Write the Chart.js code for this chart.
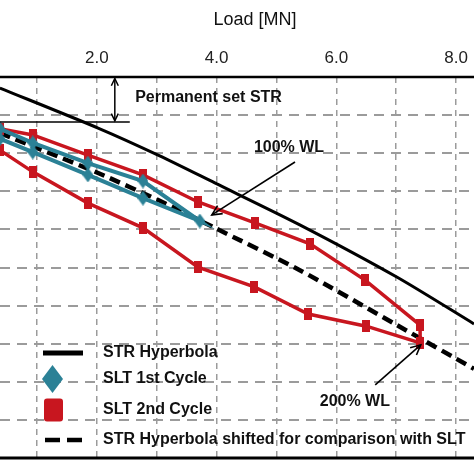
<!DOCTYPE html>
<html>
<head>
<meta charset="utf-8">
<script src="https://cdn.jsdelivr.net/npm/chart.js@4.4.1/dist/chart.umd.min.js"></script>
<style>
    body { margin: 0; background: #fff; }
    #wrap { width: 474px; height: 474px; }
</style>
</head>
<body>
<div id="wrap"><canvas id="chart1"></canvas></div>
<script>
// tick labels on the load axis
const loadTicks = [2, 4, 6, 8];

// STR hyperbola
const strLoad = [0.38, 2.02, 3.05, 3.97, 5.39, 7.01, 8.30];
const strSettle = [0.29, 1.34, 2.07, 2.78, 3.88, 5.25, 6.48];

// STR hyperbola shifted by the permanent set
const shiftLoad = [0.38, 2.02, 3.05, 3.97, 5.39, 7.01, 8.30];
const shiftSettle = [1.47, 2.52, 3.25, 3.96, 5.07, 6.51, 7.66];

// SLT 1st cycle (loading, then unloading)
const slt1Load = [0.38, 0.93, 1.85, 2.77, 3.72, 2.77, 1.85, 0.93, 0.38];
const slt1Settle = [1.36, 1.73, 2.26, 2.73, 3.78, 3.18, 2.57, 1.97, 1.62];

// SLT 2nd cycle (loading, then unloading)
const slt2Load = [0.38, 0.93, 1.85, 2.77, 3.69, 4.64, 5.56, 6.48, 7.40, 7.40, 6.50, 5.53, 4.63, 3.69, 2.77, 1.85, 0.93, 0.38];
const slt2Settle = [1.36, 1.52, 2.05, 2.57, 3.28, 3.83, 4.38, 5.33, 6.51, 6.98, 6.54, 6.22, 5.51, 4.99, 3.96, 3.31, 2.49, 1.92];

const legendLabels = ['STR Hyperbola', 'SLT 1st Cycle', 'SLT 2nd Cycle', 'STR Hyperbola shifted for comparison with SLT'];

const FONT = '"Liberation Sans", Arial, sans-serif';
const TEAL = '#2b8196';
const RED = '#c8161f';

function pts(xs, ys) {
    return xs.map((v, i) => ({ x: v, y: ys[i] }));
}

// small marker images
function makeMarker(w, h, color, diamond) {
    const c = document.createElement('canvas');
    c.width = w; c.height = h;
    const g = c.getContext('2d');
    g.fillStyle = color;
    g.beginPath();
    if (diamond) {
        g.moveTo(w / 2, 0); g.lineTo(w, h / 2); g.lineTo(w / 2, h); g.lineTo(0, h / 2);
    } else {
        g.rect(0, 0, w, h);
    }
    g.closePath();
    g.fill();
    return c;
}
const diamondMark = makeMarker(11, 15, TEAL, true);
const rectMark = makeMarker(8, 12, RED, false);

function line(ctx, x1, y1, x2, y2) {
    ctx.beginPath(); ctx.moveTo(x1, y1); ctx.lineTo(x2, y2); ctx.stroke();
}
function head(ctx, x1, y1, x2, y2, size) {
    const a = Math.atan2(y2 - y1, x2 - x1);
    ctx.beginPath();
    ctx.moveTo(x2 - size * Math.cos(a - 0.45), y2 - size * Math.sin(a - 0.45));
    ctx.lineTo(x2, y2);
    ctx.lineTo(x2 - size * Math.cos(a + 0.45), y2 - size * Math.sin(a + 0.45));
    ctx.stroke();
}

const notes = {
    id: 'notes',
    afterDraw(chart) {
        const { ctx, chartArea: a, scales: { x, y } } = chart;
        const X = v => x.getPixelForValue(v);
        const Y = v => y.getPixelForValue(v);
        ctx.save();
        ctx.strokeStyle = '#000';
        ctx.fillStyle = '#111';

        // frame lines
        ctx.lineWidth = 2.5;
        line(ctx, a.left, a.top, a.right, a.top);
        ctx.lineWidth = 3;
        line(ctx, a.left, a.bottom, a.right, a.bottom);

        // axis title
        ctx.font = '18px ' + FONT;
        ctx.textAlign = 'center';
        ctx.textBaseline = 'middle';
        ctx.fillText('Load [MN]', X(4.64), 20);

        // permanent set
        ctx.lineWidth = 1.5;
        line(ctx, a.left, Y(1.18), X(2.55), Y(1.18));
        line(ctx, X(2.30), Y(0.04), X(2.30), Y(1.15));
        head(ctx, X(2.30), Y(0.6), X(2.30), Y(0.04), 8);
        head(ctx, X(2.30), Y(0.6), X(2.30), Y(1.15), 8);
        ctx.font = 'bold 16px ' + FONT;
        ctx.textAlign = 'left';
        ctx.fillText('Permanent set STR', X(2.64), Y(0.53));

        // 100% / 200% working load
        ctx.textAlign = 'center';
        ctx.fillText('100% WL', X(5.21), Y(1.86));
        ctx.fillText('200% WL', X(6.31), Y(8.53));
        ctx.lineWidth = 1.6;
        line(ctx, X(5.31), Y(2.23), X(3.92), Y(3.62));
        head(ctx, X(5.31), Y(2.23), X(3.92), Y(3.62), 11);
        line(ctx, X(6.65), Y(8.08), X(7.41), Y(7.03));
        head(ctx, X(6.65), Y(8.08), X(7.41), Y(7.03), 11);

        // legend
        const ds = chart.data.datasets;
        const lx = 103;
        const rows = [353, 379, 410, 440];
        ctx.textAlign = 'left';
        ctx.font = 'bold 16px ' + FONT;
        legendLabels.forEach((t, i) => ctx.fillText(t, lx, rows[i]));

        ctx.strokeStyle = ds[0].borderColor;
        ctx.lineWidth = 5;
        line(ctx, 43, rows[0], 83, rows[0]);

        ctx.fillStyle = ds[1].borderColor;
        ctx.beginPath();
        ctx.moveTo(52.5, rows[1] - 14); ctx.lineTo(63, rows[1]);
        ctx.lineTo(52.5, rows[1] + 14); ctx.lineTo(42, rows[1]);
        ctx.closePath(); ctx.fill();

        ctx.fillStyle = ds[2].borderColor;
        ctx.beginPath();
        ctx.roundRect(44, rows[2] - 11.5, 19, 23, 3);
        ctx.fill();

        ctx.strokeStyle = ds[3].borderColor;
        ctx.lineWidth = 4.5;
        line(ctx, 45, rows[3], 60, rows[3]);
        line(ctx, 67, rows[3], 82, rows[3]);
        ctx.restore();
    }
};

const chart1 = new Chart(document.querySelector('#chart1'), {
    type: 'scatter',
    data: {
        datasets: [
            {
                label: legendLabels[0],
                data: pts(strLoad, strSettle),
                showLine: true,
                borderColor: '#000',
                borderWidth: 3,
                pointRadius: 0,
                tension: 0.25,
            },
            {
                label: legendLabels[1],
                data: pts(slt1Load, slt1Settle),
                showLine: true,
                borderColor: TEAL,
                borderWidth: 4,
                pointStyle: diamondMark,
                pointRadius: 6,
            },
            {
                label: legendLabels[2],
                data: pts(slt2Load, slt2Settle),
                showLine: true,
                borderColor: RED,
                borderWidth: 3.5,
                pointStyle: rectMark,
                pointRadius: 6,
            },
            {
                label: legendLabels[3],
                data: pts(shiftLoad, shiftSettle),
                showLine: true,
                borderColor: '#000',
                borderWidth: 4.5,
                borderDash: [11, 6],
                pointRadius: 0,
                tension: 0.25,
            }
        ]
    },
    options: {
        responsive: true,
        maintainAspectRatio: false,
        animation: false,
        layout: { autoPadding: false, padding: { top: 0, bottom: 16, left: 0, right: 0 } },
        scales: {
            x: {
                type: 'linear',
                position: 'top',
                min: 0.382,
                max: 8.30,
                afterFit: s => { s.height = 77; s.paddingLeft = 0; s.paddingRight = 0; },
                grid: {
                    color: '#9b9b9b',
                    lineWidth: 1.5,
                    drawTicks: false,
                },
                border: { display: false, dash: [6, 5] },
                ticks: {
                    stepSize: 1,
                    includeBounds: false,
                    autoSkip: false,
                    maxRotation: 0,
                    padding: 8,
                    color: '#222',
                    font: { family: FONT, size: 17 },
                    callback: v => loadTicks.includes(v) ? v.toFixed(1) : '',
                },
            },
            y: {
                min: 0,
                max: 10,
                reverse: true,
                afterFit: s => { s.width = 0; },
                grid: {
                    color: c => (c.tick.value === 0 || c.tick.value === 10) ? 'rgba(0,0,0,0)' : '#9b9b9b',
                    lineWidth: 2,
                    drawTicks: false,
                },
                border: { display: false, dash: [10, 7] },
                ticks: { display: false, stepSize: 1 },
            },
        },
        plugins: {
            legend: { display: false },
            tooltip: { enabled: false },
        }
    },
    plugins: [notes]
});
</script>
</body>
</html>
